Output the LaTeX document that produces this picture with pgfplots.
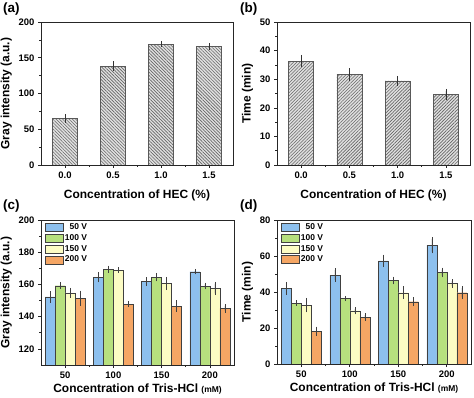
\documentclass[border=0pt]{standalone}
\usepackage{fontspec}
\setmainfont{Liberation Sans}
\usepackage{pgfplots}
\pgfplotsset{compat=1.18}
\usetikzlibrary{patterns.meta}
\definecolor{cblue}{HTML}{8DC0EE}
\definecolor{cgreen}{HTML}{B7E07E}
\definecolor{cyellow}{HTML}{FCFCC4}
\definecolor{corange}{HTML}{F5A664}
\pgfplotsset{
  myaxis/.style={
    scale only axis,
    axis line style={line width=0.8pt, black!85},
    tick pos=left, tick align=outside,
    major tick length=3bp, minor tick length=2bp,
    every tick/.style={black!85, line width=0.6pt},
    /pgf/number format/assume math mode=true,
    tick label style={font=\bfseries\fontsize{9.5}{11}\selectfont},
    label style={font=\bfseries\fontsize{12}{14}\selectfont},
    minor y tick num=1,
  },
  hbar/.style={ybar, bar width=25bp, draw=black!65, line width=0.4pt, fill=black!12,
    postaction={pattern={Lines[angle=#1,distance=2.3bp,line width=0.6bp]}, pattern color=black!60},
    error bars/.cd, y dir=both, y explicit,
    error bar style={black!80, line width=0.5pt},
    error mark options={black!80, mark size=2bp, line width=0.5pt}},
  cbar/.style={fill=#1, draw=black!75, line width=0.4pt,
    legend image code/.code={\draw[##1] (0bp,-4bp) rectangle (18bp,4bp);},
    error bars/.cd, y dir=both, y explicit,
    error bar style={black!75, line width=0.5pt},
    error mark options={black!75, mark size=1.8bp, line width=0.5pt}},
  mylegend/.style={legend style={draw=none, fill=none, at={(0.02,0.985)}, anchor=north west,
    font=\bfseries\fontsize{8.5}{9.5}\selectfont, row sep=0.3bp, inner sep=0pt,
    nodes={inner sep=1.5bp}}, legend cell align=left},
}
\begin{document}
\begin{tikzpicture}
\useasboundingbox (0,0) rectangle (474bp,398bp);
% (a)
\begin{axis}[myaxis, at={(41bp,233bp)}, anchor=south west, width=192bp, height=143bp,
  xmin=-0.5, xmax=3.5, ymin=0, ymax=200, xtick={0,1,2,3},
  xticklabels={0.0,0.5,1.0,1.5}, minor xtick={0.5,1.5,2.5},
  ytick={0,50,100,150,200}, xlabel style={yshift=-5bp},
  xlabel={Concentration of HEC (\%)}, ylabel={Gray intensity (a.u.)}]
\addplot[hbar=-45] coordinates {(0,65) +- (0,3) (1,138) +- (0,4) (2,169) +- (0,1) (3,165.5) +- (0,2)};
\end{axis}
% (b)
\begin{axis}[myaxis, at={(277bp,233bp)}, anchor=south west, width=193bp, height=143bp,
  xmin=-0.5, xmax=3.5, ymin=0, ymax=50, xtick={0,1,2,3},
  xticklabels={0.0,0.5,1.0,1.5}, minor xtick={0.5,1.5,2.5},
  ytick={0,10,20,30,40,50}, xlabel style={yshift=-5bp},
  xlabel={Concentration of HEC (\%)}, ylabel={Time (min)}]
\addplot[hbar=45] coordinates {(0,36.3) +- (0,1.5) (1,31.7) +- (0,1.5) (2,29.4) +- (0,1.1) (3,24.7) +- (0,1.2)};
\end{axis}
% (c)
\begin{axis}[myaxis, mylegend, at={(41bp,33bp)}, anchor=south west, width=193bp, height=145bp,
  ybar=0pt, bar width=10bp,
  xmin=0.5, xmax=4.5, ymin=110, ymax=200, xtick={1,2,3,4},
  xticklabels={50,100,150,200}, minor xtick={1.5,2.5,3.5},
  ytick={120,140,160,180,200}, xlabel style={yshift=1bp},
  xlabel={Concentration of Tris-HCl {\fontsize{8.5}{10}\selectfont(mM)}}, ylabel={Gray intensity (a.u.)}]
\addplot[cbar=cblue] coordinates {(1,152.3) +- (0,2.5) (2,164.4) +- (0,2) (3,161.9) +- (0,1.5) (4,167.9) +- (0,0.6)};
\addplot[cbar=cgreen] coordinates {(1,159.2) +- (0,1) (2,169.5) +- (0,1) (3,164.6) +- (0,1.5) (4,159) +- (0,1)};
\addplot[cbar=cyellow] coordinates {(1,154.8) +- (0,2) (2,168.9) +- (0,0.6) (3,160.6) +- (0,3) (4,157.5) +- (0,3)};
\addplot[cbar=corange] coordinates {(1,151.5) +- (0,3.5) (2,147.8) +- (0,0.6) (3,146.6) +- (0,2.5) (4,145.2) +- (0,1.5)};
\legend{\hphantom{0}50 V,100 V,150 V,200 V}
\end{axis}
% (d)
\begin{axis}[myaxis, mylegend, at={(277bp,34bp)}, anchor=south west, width=194bp, height=144bp,
  ybar=0pt, bar width=10bp,
  xmin=0.5, xmax=4.5, ymin=0, ymax=80, xtick={1,2,3,4},
  xticklabels={50,100,150,200}, minor xtick={1.5,2.5,3.5},
  ytick={0,20,40,60,80}, xlabel style={yshift=1bp},
  xlabel={Concentration of Tris-HCl {\fontsize{8.5}{10}\selectfont(mM)}}, ylabel={Time (min)}]
\addplot[cbar=cblue] coordinates {(1,42.1) +- (0,2.5) (2,49.4) +- (0,2.7) (3,57.3) +- (0,2.5) (4,66) +- (0,3.5)};
\addplot[cbar=cgreen] coordinates {(1,33.8) +- (0,0.5) (2,36.4) +- (0,0.4) (3,46.4) +- (0,1.2) (4,50.8) +- (0,1.7)};
\addplot[cbar=cyellow] coordinates {(1,32.7) +- (0,3) (2,29.6) +- (0,1) (3,39.6) +- (0,2.5) (4,44.7) +- (0,1.3)};
\addplot[cbar=corange] coordinates {(1,18.3) +- (0,1.5) (2,26.1) +- (0,1) (3,34.6) +- (0,1.5) (4,39.6) +- (0,2.5)};
\legend{\hphantom{0}50 V,100 V,150 V,200 V}
\end{axis}
\node[anchor=north west, inner sep=0pt, font=\bfseries\fontsize{13.5}{16}\selectfont] at (3bp,395bp) {(a)};
\node[anchor=north west, inner sep=0pt, font=\bfseries\fontsize{13.5}{16}\selectfont] at (240bp,395bp) {(b)};
\node[anchor=north west, inner sep=0pt, font=\bfseries\fontsize{13.5}{16}\selectfont] at (3bp,198bp) {(c)};
\node[anchor=north west, inner sep=0pt, font=\bfseries\fontsize{13.5}{16}\selectfont] at (240bp,198bp) {(d)};
\end{tikzpicture}
\end{document}
